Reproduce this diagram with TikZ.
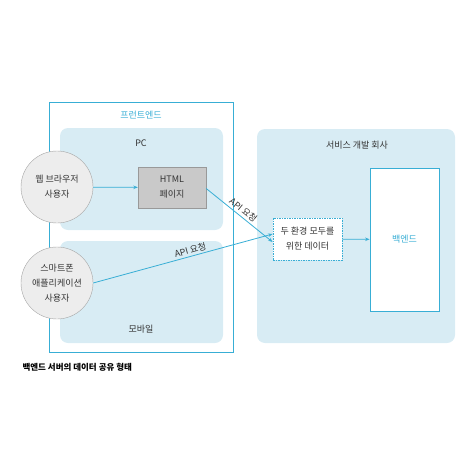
\documentclass[tikz,border=0pt]{standalone}
\usepackage{fontspec}
\setmainfont{Noto Sans CJK KR}
\usetikzlibrary{arrows.meta}
\definecolor{linecyan}{HTML}{38AED5}
\definecolor{panelblue}{HTML}{D8ECF4}
\definecolor{circlegray}{HTML}{EDEDED}
\definecolor{pagegray}{HTML}{C9C9C9}

\begin{document}
\begin{tikzpicture}[x=1pt, y=-1pt, font=\fontsize{9}{15}\selectfont,
    panel/.style={fill=panelblue, rounded corners=8pt},
    user/.style={circle, draw=gray!70, fill=circlegray, minimum size=72pt, align=center, text=black!80},
    page/.style={draw=gray!80, fill=pagegray, minimum width=68pt, minimum height=41pt, align=center, text=black!80},
    flow/.style={draw=linecyan, line width=0.8pt, -{Stealth[length=4.5pt, width=3.5pt]}}]
    \useasboundingbox (0,0) rectangle (474,474);
    % Frontend frame
    \draw[linecyan, line width=0.9pt] (49,102) rectangle (233,352);
    \node[text=linecyan] (front) at (141,115) {프런트엔드};
    % PC and mobile panels
    \fill[panel] (60,128) rectangle (223,230);
    \node[text=black!80] (pc) at (141,143) {PC};
    \fill[panel] (60,241) rectangle (223,343);
    \node[text=black!80] (mobile) at (141,329) {모바일};
    % Service company panel
    \fill[panel] (257,129) rectangle (455,343);
    \node[text=black!80] (company) at (357,145) {서비스 개발 회사};
    % Users
    \node[user] (web) at (57,187) {웹 브라우저\\사용자};
    \node[user] (app) at (57,283) {스마트폰\\애플리케이션\\사용자};
    % HTML page
    \node[page] (html) at (172,187.5) {HTML\\페이지};
    % Shared data and backend
    \node[draw=linecyan, dash pattern=on 1.5pt off 1pt, line width=0.8pt, fill=white,
          minimum width=69pt, minimum height=42pt, align=center, text=black!80] (data) at (307.5,239) {두 환경 모두를\\위한 데이터};
    \node[draw=linecyan, line width=0.8pt, fill=white, minimum width=69pt, minimum height=143pt,
          text=linecyan] (backend) at (404.5,239.5) {백엔드};
    % Arrows
    \draw[flow] (html.east) ++(0,1) coordinate (h) (h) -- node[sloped, above, pos=0.5, inner sep=2pt, text=black!80] {API 요청} ([yshift=-3pt]data.west);
    \draw[flow] (web) -- (html);
    \draw[flow] (app.east) -- node[sloped, above, pos=0.55, inner sep=1.5pt, text=black!80] {API 요청} ([yshift=5pt]data.west);
    \draw[flow] (data) -- (backend);
    % Caption
    \node[anchor=west, font=\fontsize{8.5}{10}\selectfont\bfseries] (caption) at (19,367) {백엔드 서버의 데이터 공유 형태};
\end{tikzpicture}
\end{document}
